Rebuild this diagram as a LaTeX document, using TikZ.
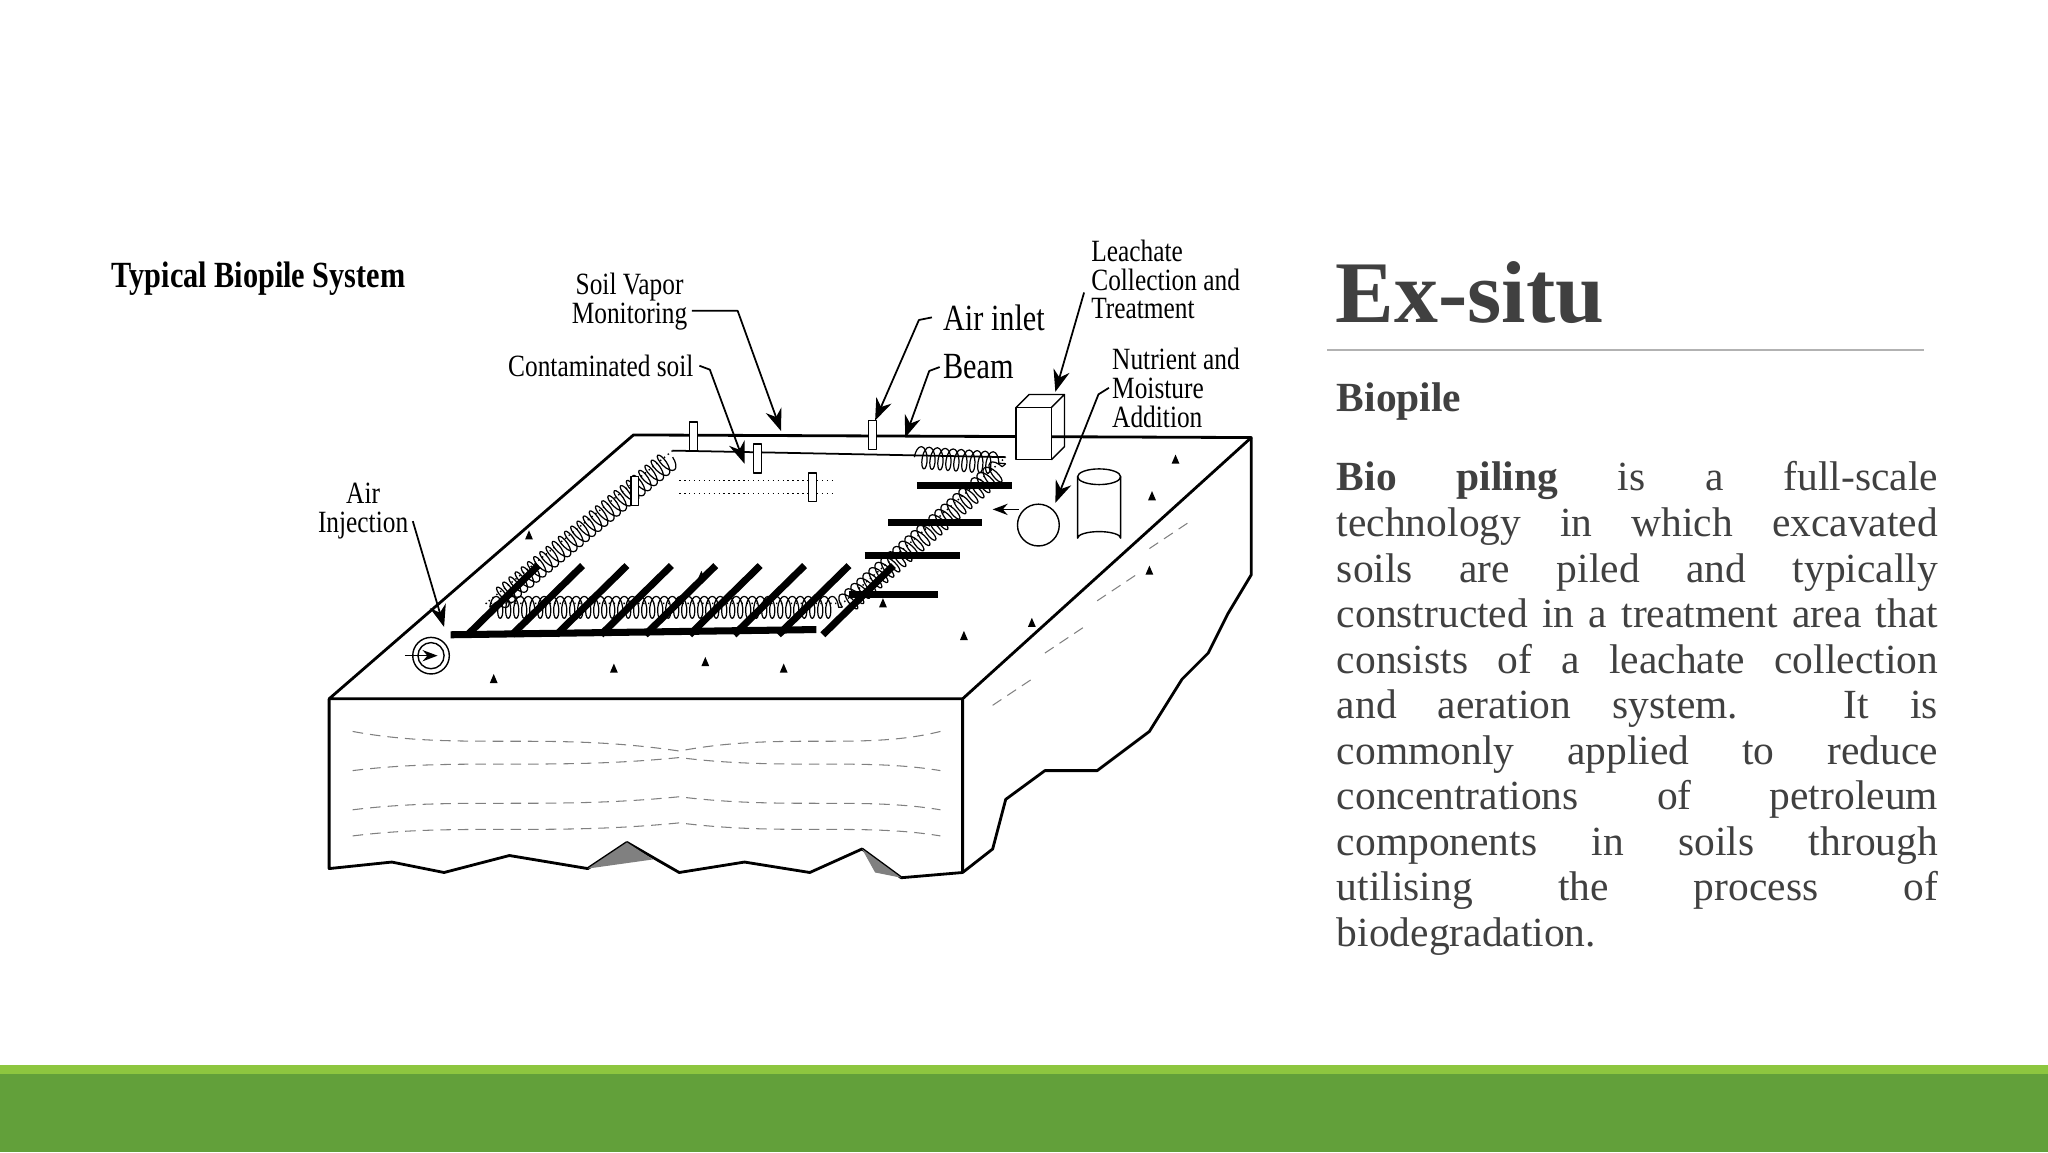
\documentclass[tikz,border=0pt]{standalone}
\usepackage{fontspec}
\setmainfont{Liberation Serif}
\newfontfamily\lblfont[FakeStretch=0.82]{Liberation Serif}
\usetikzlibrary{arrows.meta,decorations.pathmorphing}
\definecolor{txtgray}{HTML}{404040}
\definecolor{lightgreen}{HTML}{8DC63F}
\definecolor{darkgreen}{HTML}{62A03A}
\begin{document}
\begin{tikzpicture}[x=0.1306mm,y=-0.1306mm,line join=round,
      lbl/.style={font=\lblfont\fontsize{8.8}{8.2}\selectfont,inner sep=0pt,align=left},
      lead/.style={-{Stealth[length=2.2mm]},line width=0.5pt},
      pipe/.style={line width=2pt},
      berm/.style={decorate,decoration={coil,aspect=0.4,amplitude=1.1mm,segment length=0.8mm},line width=0.35pt},
      tiny/.style={line width=0.3pt,densely dashed,gray}]
    \useasboundingbox (0,0) rectangle (1568,882);
    % footer bars
    \fill[lightgreen] (0,815) rectangle (1568,822);
    \fill[darkgreen] (0,822) rectangle (1568,882);
    % slab
    \draw[line width=0.8pt] (252,535) -- (485,333) -- (958,335) -- (737,535) -- cycle;
    \draw[line width=0.8pt] (252,535) -- (252,665) -- (300,660) -- (340,668) -- (390,655)
      -- (450,665) -- (480,645) -- (520,668) -- (570,660) -- (620,668) -- (660,650)
      -- (690,672) -- (737,668) -- (737,535);
    \draw[line width=0.8pt] (958,335) -- (958,440) -- (940,470) -- (925,500) -- (905,520)
      -- (880,560) -- (840,590) -- (800,590) -- (770,612) -- (760,650) -- (737,668);
    \fill[gray] (450,665) -- (480,645) -- (500,658) -- cycle;
    \fill[gray] (660,650) -- (690,672) -- (670,668) -- cycle;
    % soil texture
    \foreach \ya/\yb in {560/575,590/580,620/610,640/630}
      \draw[tiny] (270,\ya) .. controls (350,\yb) and (420,\ya) .. (520,\yb)
        .. controls (600,\ya) and (660,\yb) .. (720,\ya);
    \foreach \k in {0,1,2,3}
      \draw[tiny] (760+40*\k,{540-40*\k}) -- (790+40*\k,{520-40*\k});
    \foreach \px/\py in {405/410,470/512,540/507,600/512,738/487,676/462,900/352,882/380,378/520,537/441,880/437,790/477}
      \fill (\px,\py) ++(-3,3) -- ++(3,-7) -- ++(3,7) -- cycle;
    % pile and berm
    \draw[line width=0.5pt] (515,345) -- (770,350);
    \draw[densely dotted] (515,345) -- (372,462) -- (645,462) -- (770,350);
    \draw[berm] (515,350) -- (375,465);
    \draw[berm] (375,465) -- (645,465);
    \draw[berm] (645,465) -- (770,355);
    \draw[berm] (700,350) -- (770,355);
    % air distribution pipes
    \draw[pipe] (345,486) -- (625,482);
    \foreach \i in {0,...,8}
      \draw[pipe] ({358+34*\i},486) -- ({412+34*\i},433);
    \foreach \xa/\xb/\yy in {650/718/455,662/735/425,680/752/400,702/775/372}
      \draw[pipe] (\xa,\yy) -- (\xb,\yy);
    \draw[densely dotted] (520,368) -- (640,368);
    \draw[densely dotted] (520,378) -- (640,378);
    % monitoring wells
    \foreach \wx/\wy in {531/323,668/322,580/340,622/362,486/365}
      \draw[fill=white] (\wx-3,\wy) rectangle (\wx+3,\wy+22);
    % blowers, tank, box
    \draw (330,502) circle (14) (330,502) circle (10);
    \draw[-{Stealth[length=1.5mm]}] (310,502) -- (335,502);
    \draw (795,402) circle (16);
    \draw[-{Stealth[length=1.5mm]}] (780,390) -- (760,390);
    \draw (825,365) -- (825,412) arc (180:360:16.5 and 5) -- (858,365);
    \draw (841.5,365) ellipse (16.5 and 6);
    \draw[fill=white] (778,312) rectangle (805,352);
    \draw (778,312) -- (788,302) -- (815,302) -- (815,342) -- (805,352) (805,312) -- (815,302);
    % titles and labels
    \node[lbl,anchor=west,font=\lblfont\bfseries\fontsize{10.5}{11}\selectfont] (ttl) at (85,213) {Typical Biopile System};
    \node[lbl,align=center] (svm) at (482,231) {Soil Vapor\\Monitoring};
    \node[lbl] (cs) at (460,280) {Contaminated soil};
    \node[lbl,font=\lblfont\fontsize{10.5}{11}\selectfont] (ai) at (761,243) {Air inlet};
    \node[lbl,font=\lblfont\fontsize{10.5}{11}\selectfont] (bm) at (749,281) {Beam};
    \node[lbl,anchor=north west] (lct) at (835,183) {Leachate\\Collection and\\Treatment};
    \node[lbl,anchor=north west] (nma) at (851,266) {Nutrient and\\Moisture\\Addition};
    \node[lbl,align=center] (inj) at (278,391) {Air\\Injection};
    \coordinate (svmE) at (598,330);
    \coordinate (csE) at (570,355);
    \coordinate (aiE) at (670,322);
    \coordinate (bmE) at (693,335);
    \coordinate (lctE) at (808,300);
    \coordinate (nmaE) at (808,385);
    \coordinate (injE) at (340,480);
    \draw[lead] (svm.east) ++(3,7) -- ++(35,0) -- (svmE);
    \draw[lead] (cs.east) ++(4,0) -- ++(8,3) -- (csE);
    \draw[lead] (ai.west) ++(-8,0) -- ++(-10,2) -- (aiE);
    \draw[lead] (bm.west) ++(-2,0) -- ++(-8,3) -- (bmE);
    \draw[lead] (lct.west) ++(-5,10) -- (lctE);
    \draw[lead] (nma.west) ++(-2,0) -- ++(-8,5) -- (nmaE);
    \draw[lead] (inj.east) ++(3,8) -- (injE);
    % right text
    \node[anchor=base west,inner sep=0pt,text=txtgray,font=\bfseries\fontsize{25}{28}\selectfont] (exs) at (1022,247) {Ex-situ};
    \draw[gray!60,line width=0.5pt] (1016,268) -- (1473,268);
    \node[anchor=base west,inner sep=0pt,text=txtgray,font=\bfseries\fontsize{11.8}{13}\selectfont] (bp) at (1023,315) {Biopile};
    \node[anchor=north west,inner sep=0pt,text=txtgray,text width=171pt,align=justify,
      font=\fontsize{11.8}{12.95}\selectfont] (par) at (1023,353)
      {\lineskiplimit=-20pt\hyphenpenalty=10000 \textbf{Bio piling} is a full-scale\linebreak technology in which excavated\linebreak soils are piled and typically\linebreak constructed in a treatment area that\linebreak consists of a leachate collection\linebreak and aeration system. It is\linebreak commonly applied to reduce\linebreak concentrations of petroleum\linebreak components in soils through\linebreak utilising the process of\linebreak biodegradation.};
\end{tikzpicture}
\end{document}
